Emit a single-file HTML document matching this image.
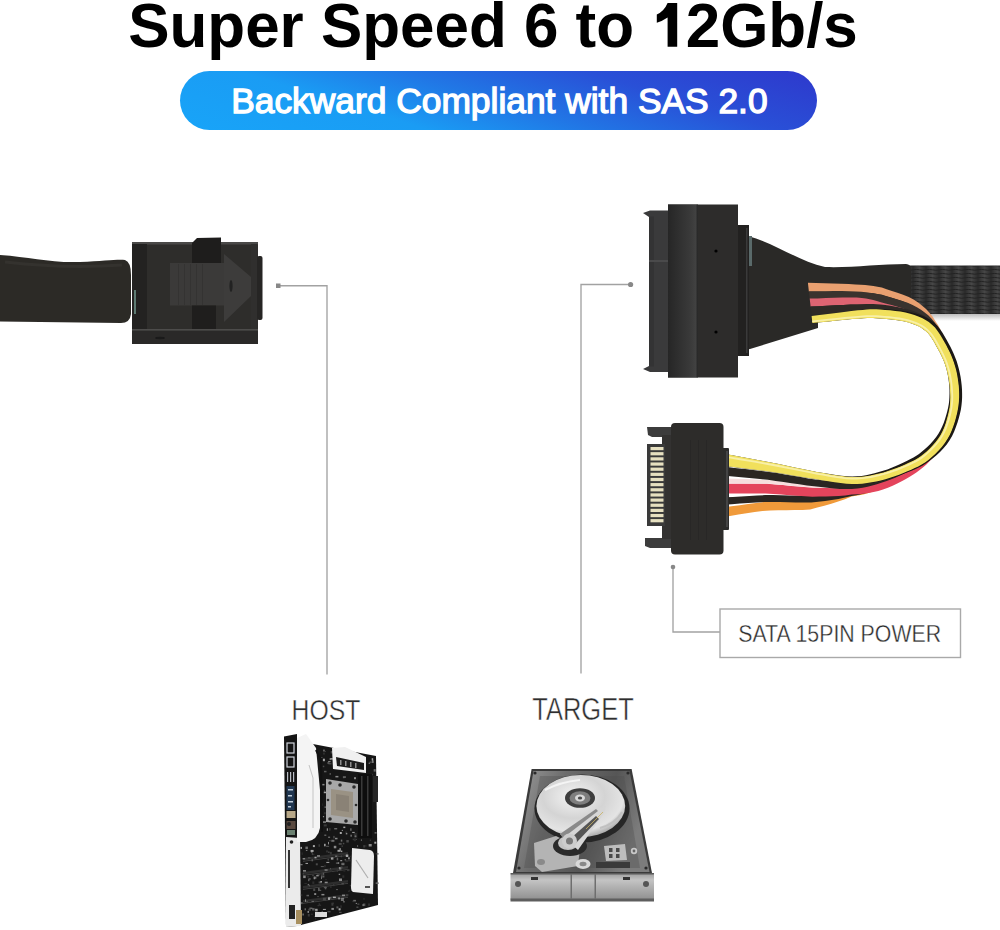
<!DOCTYPE html>
<html><head><meta charset="utf-8">
<style>
html,body{margin:0;padding:0;background:#fff;width:1000px;height:930px;overflow:hidden}
svg{position:absolute;left:0;top:0;display:block}
text{font-family:"Liberation Sans",sans-serif}
</style></head><body>
<svg width="1000" height="930" viewBox="0 0 1000 930">
<defs>
 <linearGradient id="pill" gradientUnits="userSpaceOnUse" x1="180" y1="130" x2="251.5" y2="-102.8">
  <stop offset="0" stop-color="#18a4f8"/>
  <stop offset="0.3" stop-color="#1a9cf4"/>
  <stop offset="0.5" stop-color="#2176e5"/>
  <stop offset="0.72" stop-color="#2950d7"/>
  <stop offset="1" stop-color="#2e38cc"/>
 </linearGradient>
</defs>
<rect width="1000" height="930" fill="#fff"/>

<!-- Title -->
<text transform="translate(128.2,46.9) scale(0.9724,1)" font-size="63.7" font-weight="bold" fill="#000">Super Speed 6 to <tspan fill="transparent">1</tspan>2Gb/s</text>
<path d="M667.6,3 L677.2,3 L677.2,46.8 L667.6,46.8 L667.6,17.5 Q662.5,21 656.8,22.8 L656.8,14.4 Q664,11.5 667.6,3 Z" fill="#000"/>

<!-- Pill -->
<rect x="180" y="71" width="637" height="59" rx="29.5" fill="url(#pill)"/>
<text transform="translate(231.2,112.5) scale(1.0121,1)" font-size="34.94" fill="#fff" stroke="#fff" stroke-width="1.3">Backward Compliant with SAS 2.0</text>

<!-- Left cable -->
<g id="leftcable">
 <path d="M0,255 C30,257 50,263 80,262 C105,261 118,259 125,260 Q131,262 131,275 L131,314 Q130,323 121,323 L0,321.5 Z" fill="#2c2a26"/>
 <path d="M5,262 C40,266 80,268 122,265" stroke="#34322e" stroke-width="3" fill="none"/>
 <rect x="132" y="242" width="126" height="102" fill="#2e2d2b"/>
 <rect x="132" y="242" width="126" height="2.5" fill="#4a4948"/>
 <rect x="132" y="244" width="15" height="86" fill="#232221"/>
 <rect x="134" y="290" width="2" height="24" fill="#5d7a72"/>
 <polygon points="224,254 251,277 251,296 224,322" fill="#3d3c3b"/>
 <rect x="251" y="244" width="6.5" height="86" fill="#302f2e"/>
 <rect x="257" y="256" width="5.5" height="64" rx="2" fill="#262524"/>
 <rect x="170" y="263" width="54" height="42.5" fill="#3b3a39"/>
 <g fill="#343332"><rect x="178" y="264" width="1" height="41"/><rect x="184" y="264" width="1" height="41"/><rect x="190" y="264" width="1" height="41"/><rect x="196" y="264" width="1" height="41"/><rect x="202" y="264" width="1" height="41"/></g>
 <ellipse cx="231" cy="286" rx="1.6" ry="6" fill="#222"/>
 <path d="M192,243 L197,238 L221,237.5 L221,263 L192,263 Z" fill="#1e1d1c"/>
 <rect x="192" y="305.5" width="24" height="24" fill="#1f1e1d"/>
 <rect x="132" y="329.5" width="126" height="14.5" fill="#2a2928"/>
 <rect x="132" y="329" width="126" height="1.6" fill="#4d4c4b"/>
 <ellipse cx="160" cy="338" rx="5" ry="1.2" fill="#1a1a1a"/>
</g>

<!-- guide lines -->
<g stroke="#a2a2a2" stroke-width="1.35" fill="none">
 <polyline points="278,285.7 327,285.7 327,674.5"/>
 <polyline points="630.5,284.5 581,284.5 581,673.6"/>
 <polyline points="673,567 673,632 720,632"/>
</g>
<rect x="276" y="283.5" width="4.5" height="4.5" fill="#888"/>
<circle cx="630.6" cy="284.5" r="2.6" fill="#888"/>
<circle cx="673" cy="567" r="2.3" fill="#888"/>
<rect x="720" y="609" width="240.5" height="48.5" fill="none" stroke="#a9a9a9" stroke-width="1.4"/>

<!-- labels -->
<text transform="translate(291.6,719.7) scale(0.8146,1)" font-size="30.38" fill="#2e2e2e" stroke="#fff" stroke-width="0.45">HOST</text>
<text transform="translate(532.3,719.5) scale(0.8226,1)" font-size="30.97" fill="#2e2e2e" stroke="#fff" stroke-width="0.45">TARGET</text>
<text transform="translate(738.2,641.9) scale(0.8989,1)" font-size="23.72" fill="#2e2e2e" stroke="#fff" stroke-width="0.35">SATA 15PIN POWER</text>

<!-- flat cable + boot -->
<defs>
 <linearGradient id="rib" x1="0" y1="0" x2="1" y2="0">
  <stop offset="0" stop-color="#262626"/>
  <stop offset="0.75" stop-color="#3a3a3a"/>
  <stop offset="0.92" stop-color="#414141"/>
  <stop offset="1" stop-color="#232323"/>
 </linearGradient>
 <linearGradient id="braidband" x1="0" y1="0" x2="1" y2="0">
  <stop offset="0" stop-color="#2a2a2a"/>
  <stop offset="0.5" stop-color="#474747"/>
  <stop offset="1" stop-color="#2a2a2a"/>
 </linearGradient>
 <pattern id="braid" patternUnits="userSpaceOnUse" x="900" y="265" width="13" height="4">
  <rect width="13" height="4" fill="url(#braidband)"/>
  <path d="M0,0.8 Q3.25,0 6.5,0.8 T13,0.8" stroke="#222" stroke-width="1" fill="none"/>
 </pattern>
 <linearGradient id="refl" x1="0" y1="0" x2="0" y2="1">
  <stop offset="0" stop-color="#bdbdbd"/>
  <stop offset="1" stop-color="#ffffff"/>
 </linearGradient>
</defs>
<g id="sas">
 <rect x="900" y="265.5" width="100" height="48.5" fill="url(#braid)"/>
 <rect x="900" y="314" width="100" height="7" fill="url(#refl)"/>
 <path d="M745,236 L748,236 C775,243 800,262 825,267 C850,268 880,264 906,264 Q911,264 911,270 L911,300 L900,304 L818,322 L818,328 L750,349 L745,350 Z" fill="#2a2927"/>
 <rect x="738" y="225" width="11" height="131" fill="#222120"/>
 <rect x="746" y="228" width="1.5" height="125" fill="#3a3a3a"/>
 <rect x="749" y="236" width="3" height="30" fill="#5a6a6a"/>
 <rect x="668" y="204.5" width="70" height="173" fill="#2d2c2b"/>
 <rect x="668" y="204.5" width="30" height="173" fill="url(#rib)"/>
 <path d="M643,213 L650,210.5 L668,210.5 L668,372 L650,372 L643,369 L649,366 L649,217 Z" fill="#3a3a3b"/>
 <rect x="649" y="216.5" width="5" height="150" fill="#333334"/>
 <rect x="649" y="260" width="19" height="2" fill="#4a4a4b"/>
 <circle cx="716" cy="251" r="1.6" fill="#000"/>
 <circle cx="716" cy="332" r="1.6" fill="#000"/>
</g>

<!-- wires -->
<g>
<path d="M808.9,291.7 816.9,291.8 825.3,291.8 833.7,291.9 841.9,292.0 849.5,292.2 856.1,292.6 861.4,292.6 865.6,292.7 869.5,292.9 873.3,293.3 877.2,293.9 881.3,294.5 886.0,296.0 891.2,297.5 896.6,299.2 902.1,301.1 907.5,303.2 912.4,305.5 916.6,308.2 920.4,311.1 923.8,314.2 926.9,317.5 929.7,321.0 932.0,324.7 934.4,328.1 936.4,331.9 938.1,335.7 939.5,339.5 940.8,343.3 942.0,347.0 945.5,345.1 944.5,341.3 943.3,337.3 941.9,333.2 940.2,329.1 938.0,324.9 935.3,320.9 932.7,316.8 929.7,312.9 926.3,309.3 922.5,305.9 918.5,302.7 914.0,299.7 908.8,297.1 903.1,294.8 897.4,292.8 891.9,290.9 886.6,289.2 881.8,287.6 877.5,286.7 873.4,286.0 869.3,285.4 865.2,285.0 860.8,284.8 855.4,284.6 848.7,284.1 841.0,283.7 832.7,283.4 824.3,283.2 815.9,283.0 807.9,282.7Z" fill="#e9a070"/>
<path d="M809.7,299.1 817.7,299.2 826.1,299.1 834.5,299.1 842.6,299.1 850.2,299.2 856.7,299.6 861.9,299.8 866.0,300.2 869.7,300.7 873.2,301.3 876.8,302.1 880.7,303.0 885.4,304.1 890.4,305.3 895.7,306.7 901.0,308.2 906.1,309.8 910.7,311.7 914.8,313.8 918.5,315.9 921.9,318.2 925.0,320.8 927.8,323.5 930.3,326.5 932.9,329.5 935.1,332.8 937.1,336.3 938.8,339.9 940.5,343.5 942.0,347.0 945.5,345.1 944.2,341.4 942.9,337.6 941.3,333.6 939.4,329.7 937.1,325.8 934.3,322.0 931.4,318.5 928.2,315.3 924.7,312.4 921.0,309.7 916.9,307.3 912.6,305.0 907.6,302.8 902.2,300.9 896.6,299.2 891.2,297.7 886.0,296.3 881.3,295.0 877.1,294.1 873.3,293.3 869.5,292.7 865.6,292.2 861.3,291.8 856.0,291.6 849.4,291.3 841.8,291.1 833.6,291.1 825.2,291.2 816.8,291.2 808.8,291.2Z" fill="#3a332e"/>
<path d="M810.6,306.6 818.5,306.2 826.9,305.7 835.2,305.3 843.3,304.9 850.7,304.6 857.1,304.5 862.2,304.4 866.3,304.4 869.8,304.6 873.2,304.9 876.6,305.3 880.6,305.8 885.2,306.6 890.2,307.5 895.5,308.6 900.7,309.8 905.8,311.2 910.4,312.8 914.5,314.5 918.3,316.4 921.8,318.4 922.2,317.6 918.6,315.5 914.9,313.5 910.7,311.6 906.1,309.6 901.1,307.8 895.8,306.2 890.5,304.8 885.4,303.4 880.8,302.2 876.8,301.1 873.2,300.1 869.7,299.3 866.0,298.6 861.8,298.0 856.5,297.6 850.0,297.5 842.5,297.6 834.4,297.8 826.0,298.1 817.7,298.4 809.7,298.6Z" fill="#de6472"/>
<path d="M811.4,314.5 819.4,314.0 827.7,313.4 836.1,312.7 844.1,312.2 851.4,311.8 857.7,311.5 862.8,311.2 866.7,311.0 870.0,310.9 873.1,311.0 876.3,311.2 880.2,311.5 884.7,311.9 889.7,312.5 894.9,313.1 900.1,313.9 905.0,314.9 909.5,316.1 913.5,317.5 917.2,319.0 920.7,320.7 923.9,322.6 926.9,324.8 929.7,327.3 932.2,330.1 934.6,333.2 936.6,336.6 938.5,340.1 940.3,343.6 942.0,347.0 945.5,345.1 944.1,341.5 942.6,337.7 940.8,333.9 938.8,330.1 936.5,326.3 933.7,322.8 930.4,319.9 926.9,317.5 923.3,315.3 919.5,313.4 915.4,311.8 911.1,310.3 906.3,308.9 901.1,307.7 895.7,306.7 890.4,305.8 885.3,305.1 880.6,304.5 876.7,304.2 873.2,304.0 869.8,303.9 866.3,304.0 862.2,304.2 857.1,304.5 850.7,304.6 843.3,304.9 835.2,305.3 826.9,305.7 818.5,306.2 810.6,306.6Z" fill="#2e2a26"/>
<path d="M881.2,481.9 876.7,483.4 872.2,484.8 867.5,486.1 862.6,487.1 857.4,488.0 851.8,488.5 845.7,491.1 839.2,493.3 832.6,495.3 825.7,497.1 818.8,498.9 811.7,500.6 804.1,501.0 796.1,501.2 788.0,501.4 779.9,501.5 771.8,501.7 764.0,502.0 756.1,503.0 748.0,504.1 739.8,505.2 731.4,506.3 723.0,507.4 714.6,508.4 713.1,518.3 721.5,517.1 730.0,515.9 738.4,514.6 746.6,513.3 754.7,512.1 762.5,510.9 770.2,510.5 778.2,510.3 786.3,510.2 794.4,510.1 802.5,509.9 810.2,509.5 817.3,507.6 824.3,505.7 831.3,503.7 838.2,501.6 845.0,499.2 851.6,496.5 857.7,495.6 863.3,494.4 868.5,493.0 873.4,491.4 878.0,489.6 882.6,487.7Z" fill="#f09a3a"/>
<path d="M906.4,468.9 902.6,471.1 898.6,473.2 894.3,475.3 890.0,477.3 885.5,479.2 880.9,480.9 876.5,482.6 872.1,484.3 867.5,485.8 862.6,487.1 857.4,488.2 851.8,489.0 845.7,490.7 839.4,492.0 832.9,493.1 826.3,494.0 819.5,494.9 812.5,495.7 805.1,495.8 797.2,495.6 789.1,495.5 781.0,495.3 773.0,495.1 765.2,495.1 757.3,495.5 749.3,495.9 741.1,496.4 732.9,496.9 724.5,497.3 716.2,497.8 715.1,505.3 723.4,504.7 731.8,504.2 740.0,503.6 748.2,503.1 756.2,502.5 764.0,502.0 771.8,502.0 779.7,502.1 787.8,502.3 795.9,502.5 803.8,502.6 811.3,502.6 818.4,501.8 825.1,500.9 831.8,500.0 838.5,498.9 845.1,497.6 851.6,496.0 857.6,495.0 863.2,493.8 868.4,492.3 873.2,490.5 877.8,488.7 882.3,486.7 887.0,484.7 891.6,482.4 896.0,480.0 900.2,477.6 904.3,475.1 908.0,472.6Z" fill="#2a2622"/>
<path d="M942.3,436.0 940.3,439.8 937.8,443.6 935.1,447.4 932.2,450.9 929.3,454.3 926.3,457.4 923.3,460.1 920.3,462.4 917.2,464.5 914.0,466.5 910.6,468.4 907.0,470.3 903.1,472.4 899.1,474.5 894.8,476.5 890.3,478.5 885.7,480.3 881.2,481.9 876.6,482.9 872.0,483.8 867.3,484.6 862.4,485.1 857.3,485.5 851.9,485.5 846.1,486.4 840.0,487.0 833.8,487.4 827.4,487.6 820.8,487.7 813.9,487.8 806.6,487.3 798.9,486.6 791.0,485.9 783.0,485.1 775.0,484.4 767.1,483.8 759.2,483.7 751.2,483.7 743.0,483.7 734.8,483.7 726.6,483.7 718.3,483.7 716.8,493.6 725.1,493.6 733.3,493.6 741.5,493.6 749.6,493.6 757.6,493.6 765.5,493.6 773.2,494.1 781.2,494.6 789.2,495.2 797.1,495.8 805.0,496.3 812.4,496.7 819.2,496.6 825.9,496.5 832.4,496.3 838.9,496.0 845.3,495.4 851.6,494.5 857.6,494.3 863.2,493.8 868.5,493.0 873.5,492.0 878.3,490.9 883.0,489.6 887.9,487.8 892.6,485.8 897.3,483.6 901.7,481.3 905.9,479.0 909.7,476.7 913.3,474.5 916.7,472.2 920.0,469.8 923.2,467.3 926.4,464.4 929.5,461.3 932.5,457.9 935.5,454.3 938.4,450.4 941.2,446.4 943.6,442.2 945.7,438.0Z" fill="#e4445c"/>
<path d="M880.7,479.9 876.2,481.3 871.8,482.5 867.2,483.6 862.4,484.5 857.3,485.1 851.9,485.5 846.1,486.0 840.1,486.1 834.0,486.0 827.7,485.8 821.2,485.4 814.4,485.1 807.1,484.4 799.5,483.6 791.6,482.6 783.6,481.7 775.6,480.8 767.8,480.0 759.9,479.7 751.8,479.3 743.7,479.1 735.6,478.8 727.4,478.5 719.2,478.2 718.5,482.5 726.7,482.7 735.0,482.9 743.1,483.0 751.3,483.2 759.3,483.3 767.2,483.6 775.0,484.2 783.0,484.9 791.0,485.7 798.9,486.4 806.6,487.1 813.9,487.6 820.7,487.9 827.3,488.1 833.6,488.3 839.9,488.3 845.9,488.1 851.8,487.5 857.4,487.1 862.6,486.5 867.5,485.6 872.1,484.5 876.7,483.2 881.2,481.9Z" fill="#f6dede"/>
<path d="M906.0,468.0 902.0,469.7 897.9,471.4 893.5,473.0 889.0,474.5 884.5,475.8 880.0,477.0 875.6,478.2 871.2,479.4 866.7,480.4 862.1,481.2 857.2,481.7 852.0,482.0 846.4,482.1 840.7,481.9 834.7,481.5 828.5,480.9 822.1,480.2 815.3,479.4 808.2,478.4 800.7,477.1 792.9,475.8 785.0,474.5 777.0,473.1 769.2,471.9 761.3,471.0 753.3,470.0 745.2,469.1 737.1,468.2 729.0,467.3 721.0,466.4 719.6,475.3 727.7,476.1 735.9,476.8 744.0,477.5 752.0,478.3 760.0,479.0 767.8,479.8 775.6,480.9 783.6,482.0 791.5,483.2 799.3,484.3 806.9,485.4 814.1,486.3 820.9,487.1 827.3,487.8 833.6,488.4 839.8,488.9 845.8,489.1 851.8,489.0 857.4,488.6 862.7,487.8 867.6,486.8 872.3,485.6 876.9,484.3 881.4,482.8 886.0,481.3 890.7,479.6 895.2,477.7 899.5,475.7 903.7,473.7 907.6,471.7Z" fill="#2a2622"/>
<path d="M811.7,316.5 819.6,315.5 827.9,314.5 836.1,313.4 844.1,312.4 851.4,311.5 857.7,310.8 862.7,310.4 866.6,310.0 870.0,309.8 873.1,309.8 876.4,309.8 880.3,310.0 884.9,310.4 889.9,310.8 895.1,311.4 900.4,312.1 905.4,313.0 910.1,314.1 914.2,315.4 918.1,316.8 921.8,318.5 925.2,320.3 928.5,322.5 931.7,325.0 934.6,328.0 937.2,331.3 939.6,334.7 941.7,338.2 943.7,341.7 945.5,345.1 947.3,348.4 949.0,351.7 950.5,355.1 952.0,358.6 953.3,362.2 954.4,365.9 955.5,369.7 956.4,373.7 957.1,377.7 957.7,381.8 958.2,385.8 958.5,389.8 958.6,393.6 958.6,397.3 958.4,401.1 958.0,404.9 957.4,408.8 956.6,412.8 955.6,417.0 954.4,421.3 952.9,425.8 951.3,430.3 949.3,434.6 947.0,438.8 944.4,442.7 941.4,446.5 938.2,450.2 934.8,453.6 931.4,456.7 928.1,459.6 924.7,462.1 921.4,464.2 918.0,466.0 914.5,467.7 911.0,469.3 907.2,470.8 903.2,472.5 899.0,474.2 894.5,475.8 890.0,477.4 885.3,478.7 880.7,479.9 876.2,480.9 871.6,481.8 867.0,482.6 862.3,483.2 857.3,483.5 851.9,483.5 846.3,483.2 840.6,482.6 834.7,481.8 828.5,480.8 822.1,479.7 815.5,478.6 808.4,477.5 800.8,476.3 793.1,474.9 785.1,473.6 777.2,472.3 769.3,471.0 761.4,470.0 753.5,469.0 745.4,468.0 737.3,467.0 729.2,466.0 721.2,465.0 721.1,465.5 729.2,466.5 737.3,467.5 745.3,468.5 753.4,469.5 761.3,470.5 769.2,471.5 777.1,472.8 785.1,474.1 793.0,475.4 800.8,476.7 808.3,478.0 815.4,479.0 822.1,480.2 828.4,481.3 834.6,482.3 840.5,483.1 846.3,483.7 851.9,484.0 857.3,484.1 862.3,483.8 867.1,483.3 871.8,482.7 876.4,481.8 880.9,480.9 885.6,479.8 890.3,478.5 894.9,477.0 899.4,475.5 903.7,473.8 907.8,472.2 911.6,470.7 915.2,469.2 918.8,467.6 922.3,465.8 925.8,463.6 929.3,461.1 932.9,458.3 936.5,455.2 940.0,451.9 943.5,448.2 946.7,444.4 949.6,440.3 952.1,436.0 954.2,431.5 956.0,426.8 957.6,422.3 958.9,417.8 960.0,413.5 960.9,409.4 961.5,405.3 961.9,401.3 962.1,397.4 962.1,393.5 962.0,389.6 961.7,385.5 961.2,381.3 960.6,377.1 959.8,373.0 958.9,368.9 957.8,364.9 956.6,361.1 955.2,357.4 953.7,353.7 952.1,350.2 950.4,346.8 948.6,343.4 946.7,340.0 944.7,336.5 942.5,332.8 940.1,329.2 937.2,325.6 934.0,322.4 930.4,319.9 926.8,317.8 923.0,316.0 919.0,314.5 914.9,313.3 910.6,312.2 905.8,311.2 900.6,310.5 895.3,309.9 890.0,309.5 885.0,309.2 880.3,309.0 876.4,308.9 873.1,308.9 869.9,309.1 866.6,309.4 862.6,309.8 857.6,310.3 851.3,311.0 844.0,311.9 836.1,312.9 827.8,314.0 819.5,315.0 811.6,316.0Z" fill="#1c1915"/>
<path d="M812.4,323.0 820.4,322.2 828.6,321.4 836.9,320.5 844.9,319.8 852.1,319.1 858.4,318.7 863.3,318.3 867.1,318.1 870.2,318.0 873.0,318.1 876.0,318.2 879.7,318.5 884.2,318.8 889.0,319.3 894.1,319.8 899.0,320.5 903.7,321.3 907.8,322.3 911.5,323.5 914.9,324.7 918.0,326.1 920.9,327.6 923.5,329.4 926.0,331.3 928.3,333.6 930.4,336.3 932.4,339.3 934.4,342.5 936.2,345.9 938.0,349.2 939.7,352.3 941.3,355.4 942.7,358.6 944.1,361.7 945.2,364.9 946.3,368.3 947.1,371.8 947.9,375.4 948.5,379.2 949.0,382.9 949.3,386.7 949.5,390.3 949.5,393.8 949.4,397.2 949.2,400.6 948.8,403.9 948.2,407.3 947.4,410.8 946.4,414.6 945.2,418.6 943.8,422.7 942.2,426.6 940.4,430.3 938.4,433.7 936.2,436.9 933.6,440.2 930.8,443.4 927.8,446.4 924.7,449.2 921.7,451.7 919.0,453.9 916.3,455.8 913.5,457.5 910.5,459.1 907.2,460.7 903.6,462.4 899.8,464.2 895.8,466.0 891.6,467.7 887.4,469.4 883.1,470.8 878.8,472.1 874.5,473.3 870.3,474.3 866.0,475.2 861.6,475.9 857.0,476.3 852.1,476.5 846.9,476.3 841.4,475.8 835.7,475.0 829.7,474.1 823.3,473.0 816.6,472.0 809.6,470.6 802.2,469.0 794.5,467.4 786.6,465.7 778.7,464.0 770.8,462.5 762.9,460.9 754.9,459.4 746.9,458.0 738.9,456.6 730.9,455.1 722.9,453.7 722.8,454.2 730.8,455.6 738.8,457.0 746.8,458.5 754.8,459.9 762.8,461.4 770.7,463.0 778.6,464.5 786.6,466.2 794.4,467.9 802.1,469.5 809.5,471.1 816.5,472.4 823.2,473.6 829.6,474.7 835.6,475.7 841.3,476.6 846.8,477.2 852.1,477.5 857.1,477.5 861.7,477.2 866.2,476.7 870.6,475.9 874.9,475.1 879.3,474.1 883.7,472.9 888.1,471.6 892.5,470.1 896.7,468.5 900.9,466.8 904.8,465.2 908.4,463.5 911.8,461.9 915.0,460.4 918.0,458.6 921.0,456.7 923.9,454.4 927.0,451.8 930.1,448.8 933.2,445.6 936.1,442.2 938.7,438.7 941.0,435.2 942.9,431.5 944.6,427.6 946.1,423.5 947.4,419.3 948.5,415.1 949.4,411.2 950.0,407.6 950.5,404.1 950.7,400.6 950.8,397.2 950.7,393.8 950.5,390.2 950.2,386.6 949.8,382.8 949.2,379.0 948.5,375.3 947.7,371.6 946.8,368.1 945.7,364.8 944.5,361.5 943.2,358.4 941.8,355.2 940.2,352.1 938.5,348.9 936.7,345.6 934.8,342.3 932.8,339.0 930.8,336.0 928.6,333.3 926.3,331.0 923.8,329.0 921.1,327.2 918.2,325.7 915.1,324.3 911.7,323.0 907.9,321.9 903.8,320.8 899.1,320.0 894.1,319.3 889.1,318.8 884.2,318.3 879.7,318.0 876.0,317.7 873.0,317.6 870.2,317.5 867.1,317.6 863.3,317.8 858.3,318.2 852.1,318.6 844.8,319.3 836.9,320.0 828.6,320.9 820.3,321.7 812.3,322.5Z" fill="#1c1915"/>
<path d="M812.4,323.0 820.4,322.2 828.6,321.4 836.9,320.5 844.9,319.8 852.1,319.1 858.4,318.7 863.3,318.3 867.1,318.1 870.2,318.0 873.0,318.1 876.0,318.2 879.7,318.5 884.2,318.8 889.0,319.3 894.1,319.8 899.0,320.5 903.7,321.3 907.8,322.3 911.5,323.5 914.9,324.7 918.0,326.1 920.9,327.6 923.5,329.4 926.0,331.3 928.3,333.6 930.4,336.3 932.4,339.3 934.4,342.5 936.2,345.9 938.0,349.2 939.7,352.3 941.3,355.4 942.7,358.6 944.1,361.7 945.2,364.9 946.3,368.3 947.2,371.8 948.0,375.4 948.7,379.1 949.3,382.9 949.7,386.6 950.0,390.3 950.2,393.8 950.3,397.2 950.2,400.6 950.0,404.0 949.6,407.5 948.9,411.1 948.0,415.0 946.9,419.1 945.7,423.3 944.2,427.4 942.5,431.3 940.6,434.9 938.3,438.4 935.7,441.9 932.8,445.2 929.8,448.4 926.7,451.4 923.6,454.0 920.7,456.3 917.8,458.2 914.8,459.9 911.6,461.5 908.2,463.1 904.6,464.7 900.7,466.4 896.6,468.0 892.3,469.6 888.0,471.1 883.6,472.5 879.2,473.6 874.8,474.6 870.5,475.4 866.1,476.2 861.7,476.7 857.0,477.0 852.1,477.0 846.9,476.7 841.4,476.1 835.7,475.2 829.6,474.2 823.3,473.1 816.6,472.0 809.6,470.6 802.2,469.0 794.5,467.4 786.6,465.7 778.7,464.0 770.8,462.5 762.9,460.9 754.9,459.4 746.9,458.0 738.9,456.6 730.9,455.1 722.9,453.7 721.1,465.5 729.2,466.5 737.3,467.5 745.3,468.5 753.4,469.5 761.3,470.5 769.2,471.5 777.1,472.8 785.1,474.1 793.0,475.4 800.8,476.7 808.3,478.0 815.4,479.0 822.1,480.2 828.4,481.3 834.6,482.3 840.5,483.1 846.3,483.7 851.9,484.0 857.3,484.0 862.3,483.7 867.1,483.1 871.7,482.3 876.3,481.4 880.8,480.4 885.5,479.2 890.1,477.8 894.7,476.3 899.1,474.7 903.4,473.0 907.4,471.3 911.2,469.7 914.7,468.1 918.2,466.5 921.6,464.6 925.0,462.5 928.4,460.0 931.8,457.1 935.2,453.9 938.6,450.5 941.8,446.9 944.8,443.0 947.4,439.1 949.7,434.9 951.7,430.5 953.4,425.9 954.9,421.5 956.1,417.1 957.1,412.9 957.9,408.9 958.5,405.0 958.9,401.1 959.1,397.4 959.1,393.6 959.0,389.7 958.7,385.8 958.2,381.7 957.6,377.6 956.9,373.6 956.0,369.6 954.9,365.7 953.7,362.0 952.4,358.4 951.0,354.9 949.4,351.5 947.7,348.2 946.0,344.8 944.1,341.5 942.1,338.0 940.0,334.5 937.6,331.0 935.0,327.6 932.0,324.7 928.8,322.1 925.5,319.9 922.0,318.0 918.3,316.4 914.4,315.0 910.2,313.7 905.5,312.5 900.4,311.6 895.2,310.9 889.9,310.3 884.9,309.9 880.3,309.5 876.4,309.3 873.1,309.3 869.9,309.3 866.6,309.5 862.7,309.9 857.6,310.3 851.3,311.0 844.0,311.9 836.1,312.9 827.8,314.0 819.5,315.0 811.6,316.0Z" fill="#f1e05c"/>
<path d="M812.3,322.3 820.3,321.5 828.6,320.6 836.8,319.7 844.8,318.9 852.0,318.2 858.3,317.7 863.2,317.3 867.0,317.1 870.2,317.0 873.0,317.0 876.0,317.1 879.8,317.4 884.3,317.7 889.1,318.1 894.2,318.7 899.2,319.4 903.9,320.2 908.1,321.3 911.9,322.4 915.3,323.7 918.5,325.1 921.5,326.7 924.2,328.5 926.7,330.5 929.1,332.9 931.3,335.6 933.4,338.7 935.3,342.0 937.2,345.3 939.0,348.6 940.7,351.8 942.3,354.9 943.8,358.1 945.1,361.3 946.3,364.6 947.4,367.9 948.3,371.5 949.1,375.2 949.9,378.9 950.4,382.7 950.9,386.5 951.1,390.2 951.3,393.8 951.4,397.3 951.3,400.7 951.0,404.1 950.6,407.6 949.9,411.3 948.9,415.3 947.8,419.4 946.5,423.6 945.0,427.7 943.3,431.7 941.3,435.4 939.0,438.9 936.4,442.4 933.4,445.8 930.4,449.0 927.2,452.0 924.1,454.7 921.1,456.9 918.2,458.9 915.1,460.6 911.9,462.2 908.5,463.7 904.9,465.4 900.9,467.0 896.8,468.7 892.5,470.3 888.2,471.8 883.8,473.1 879.3,474.3 875.0,475.2 870.6,476.1 866.2,476.8 861.7,477.4 857.1,477.6 852.1,477.7 846.8,477.4 841.3,476.8 835.6,475.9 829.5,474.9 823.2,473.8 816.5,472.7 809.5,471.3 802.1,469.9 794.3,468.3 786.5,466.7 778.5,465.1 770.6,463.6 762.7,462.2 754.7,460.8 746.7,459.5 738.7,458.1 730.6,456.8 722.6,455.4 722.4,457.2 730.4,458.6 738.4,459.9 746.4,461.2 754.4,462.6 762.4,464.0 770.3,465.4 778.2,466.9 786.1,468.5 794.0,470.1 801.7,471.6 809.1,473.1 816.2,474.4 822.9,475.6 829.2,476.7 835.3,477.7 841.1,478.6 846.7,479.2 852.0,479.5 857.1,479.4 861.9,479.1 866.5,478.6 870.9,477.9 875.3,477.0 879.8,476.0 884.2,474.8 888.7,473.5 893.1,472.0 897.5,470.4 901.6,468.7 905.6,467.0 909.3,465.4 912.7,463.8 916.0,462.2 919.1,460.4 922.2,458.4 925.3,456.1 928.4,453.3 931.6,450.3 934.8,447.0 937.8,443.6 940.5,440.0 942.9,436.3 944.9,432.5 946.7,428.4 948.2,424.2 949.6,419.9 950.7,415.7 951.6,411.7 952.3,407.9 952.8,404.3 953.1,400.8 953.2,397.3 953.1,393.7 952.9,390.1 952.6,386.3 952.2,382.5 951.6,378.6 950.9,374.8 950.1,371.0 949.1,367.4 948.0,364.0 946.8,360.6 945.4,357.4 943.9,354.2 942.3,351.0 940.6,347.8 938.8,344.4 936.9,341.1 934.9,337.7 932.7,334.6 930.4,331.7 927.9,329.2 925.3,327.0 922.4,325.1 919.3,323.5 916.0,322.0 912.4,320.7 908.6,319.5 904.3,318.5 899.5,317.6 894.4,316.9 889.3,316.3 884.4,315.9 879.9,315.6 876.1,315.3 873.0,315.2 870.1,315.2 866.9,315.3 863.1,315.5 858.1,315.9 851.9,316.4 844.6,317.1 836.6,317.9 828.4,318.8 820.1,319.7 812.1,320.5Z" fill="#f8f0a8"/>
</g>

<!-- SATA connector -->
<g id="sata">
 <rect x="722" y="448" width="7" height="82" rx="1" fill="#2c2c2b"/>
 <rect x="726" y="451" width="2" height="76" fill="#454545"/>
 <path d="M647,427 L671,427 L671,437 L652,437 L648,435 Z" fill="#3c3c3c"/>
 <path d="M645,538 L671,538 L671,548 L650,548 L645,546 Z" fill="#3c3c3c"/>
 <rect x="662" y="435" width="9" height="104" fill="#333231"/>
 <rect x="647" y="444" width="18" height="82" fill="#3a3a3a"/>
 <rect x="650.5" y="447.00" width="13" height="3.2" fill="#e6e0c0"/><rect x="650.5" y="452.15" width="13" height="3.2" fill="#e6e0c0"/><rect x="650.5" y="457.30" width="13" height="3.2" fill="#e6e0c0"/><rect x="650.5" y="462.45" width="13" height="3.2" fill="#e6e0c0"/><rect x="650.5" y="467.60" width="13" height="3.2" fill="#e6e0c0"/><rect x="650.5" y="472.75" width="13" height="3.2" fill="#e6e0c0"/><rect x="650.5" y="477.90" width="13" height="3.2" fill="#e6e0c0"/><rect x="650.5" y="483.05" width="13" height="3.2" fill="#e6e0c0"/><rect x="650.5" y="488.20" width="13" height="3.2" fill="#e6e0c0"/><rect x="650.5" y="493.35" width="13" height="3.2" fill="#e6e0c0"/><rect x="650.5" y="498.50" width="13" height="3.2" fill="#e6e0c0"/><rect x="650.5" y="503.65" width="13" height="3.2" fill="#e6e0c0"/><rect x="650.5" y="508.80" width="13" height="3.2" fill="#e6e0c0"/><rect x="650.5" y="513.95" width="13" height="3.2" fill="#e6e0c0"/><rect x="650.5" y="519.10" width="13" height="3.2" fill="#e6e0c0"/>
 <rect x="671" y="423" width="52.5" height="131.5" rx="4" fill="#2d2c2a"/>
 <g fill="#282726"><rect x="690" y="440" width="1" height="100"/><rect x="698" y="440" width="1" height="100"/><rect x="706" y="440" width="1" height="100"/></g>
</g>

<!-- motherboard -->
<defs>
 <linearGradient id="platter" x1="0" y1="0" x2="1" y2="1">
  <stop offset="0" stop-color="#f2f2f2"/>
  <stop offset="0.45" stop-color="#cfcfcf"/>
  <stop offset="0.7" stop-color="#e6e6e6"/>
  <stop offset="1" stop-color="#a8a8a8"/>
 </linearGradient>
 <linearGradient id="front" x1="0" y1="0" x2="0" y2="1">
  <stop offset="0" stop-color="#9a9a9a"/>
  <stop offset="0.25" stop-color="#c4c4c4"/>
  <stop offset="1" stop-color="#8c8c8c"/>
 </linearGradient>
 <linearGradient id="hddbase" x1="0" y1="0" x2="1" y2="1">
  <stop offset="0" stop-color="#6a6a6a"/>
  <stop offset="0.5" stop-color="#4e4e4e"/>
  <stop offset="1" stop-color="#3c3c3c"/>
 </linearGradient>
</defs>
<g id="mb">
 <polygon points="297,741 376,756 378,905 297,926" fill="#161616"/>
 <!-- io strip -->
 <polygon points="284,736.5 297,734 297,926 286,927" fill="#141414"/>
 <rect x="287" y="743" width="7" height="10" fill="none" stroke="#d0d4dc" stroke-width="1.2"/>
 <rect x="287" y="757" width="7" height="10" fill="none" stroke="#d0d4dc" stroke-width="1.2"/>
 <g fill="#b8bcc4"><rect x="287" y="772" width="1.2" height="10"/><rect x="290" y="772" width="1.2" height="10"/><rect x="293" y="772" width="1.2" height="10"/></g>
 <rect x="286.5" y="786" width="8" height="24" fill="#203650"/>
 <g fill="#c0ccd8"><rect x="288" y="789" width="5" height="1.5"/><rect x="288" y="795" width="4" height="1.5"/><rect x="288" y="801" width="5" height="1.5"/><rect x="288" y="806" width="3" height="1.5"/></g>
 <rect x="286.5" y="811" width="9" height="7" fill="#b8a888"/>
 <rect x="286.5" y="821" width="9" height="8" fill="#5a4a40"/>
 <circle cx="289" cy="824" r="2" fill="#222"/>
 <rect x="287" y="830" width="8" height="5" fill="#6a8070"/>
 <polygon points="286,837 300,838 301,926 286,927" fill="#ebebeb"/>
 <rect x="288" y="850" width="2" height="38" fill="#333"/>
 <circle cx="291.5" cy="842" r="1.8" fill="#222"/>
 <rect x="289" y="905" width="6" height="14" fill="#222"/>
 <!-- speckles -->
 <polygon points="303,858 348,852 348,854.5 303,860.5" fill="#2e2e2e"/>
 <polygon points="303,861 348,855 348,855.8 303,861.8" fill="#4a4a4a"/>
 <polygon points="303,872 348,866 348,868.5 303,874.5" fill="#2e2e2e"/>
 <polygon points="303,875 348,869 348,869.8 303,875.8" fill="#4a4a4a"/>
 <polygon points="303,886 348,880 348,882.5 303,888.5" fill="#2e2e2e"/>
 <polygon points="303,889 348,883 348,883.8 303,889.8" fill="#4a4a4a"/>
 <polygon points="303,900 348,894 348,896.5 303,902.5" fill="#2e2e2e"/>
 <polygon points="303,903 348,897 348,897.8 303,903.8" fill="#4a4a4a"/>
 <rect x="333.8" y="845.8" width="2.5" height="2.5" fill="#8a8a8a"/>
 <rect x="340.5" y="905.3" width="1" height="2.5" fill="#3a3a3a"/>
 <rect x="349.4" y="855.8" width="1.5" height="1" fill="#2e2e2e"/>
 <rect x="332.9" y="896.6" width="3" height="1.5" fill="#a8a8a8"/>
 <rect x="305.5" y="862.9" width="2.5" height="1" fill="#a8a8a8"/>
 <rect x="318.6" y="881.4" width="3" height="2" fill="#4a4a4a"/>
 <rect x="304.4" y="882.9" width="2.5" height="1" fill="#2e2e2e"/>
 <rect x="321.4" y="757.0" width="1" height="1" fill="#5c5c5c"/>
 <rect x="315.1" y="908.8" width="2.5" height="2.5" fill="#a8a8a8"/>
 <rect x="329.6" y="758.1" width="1.5" height="2" fill="#6e6e6e"/>
 <rect x="313.7" y="876.7" width="1.5" height="2.5" fill="#a8a8a8"/>
 <rect x="375.7" y="853.4" width="3" height="1" fill="#4a4a4a"/>
 <rect x="375.2" y="783.4" width="2" height="1" fill="#2e2e2e"/>
 <rect x="346.0" y="894.5" width="2.5" height="1" fill="#4a4a4a"/>
 <rect x="305.9" y="849.9" width="1.5" height="1" fill="#8a8a8a"/>
 <rect x="327.4" y="857.0" width="1.5" height="2.5" fill="#2e2e2e"/>
 <rect x="343.2" y="901.0" width="1.5" height="1.5" fill="#6e6e6e"/>
 <rect x="314.1" y="916.0" width="2.5" height="1" fill="#3a3a3a"/>
 <rect x="331.4" y="907.9" width="2.5" height="2" fill="#8a8a8a"/>
 <rect x="312.5" y="874.7" width="1" height="1.5" fill="#5c5c5c"/>
 <rect x="335.9" y="862.6" width="3" height="1" fill="#6e6e6e"/>
 <rect x="315.4" y="909.7" width="1" height="1" fill="#6e6e6e"/>
 <rect x="355.4" y="838.9" width="1.5" height="1" fill="#4a4a4a"/>
 <rect x="323.0" y="751.0" width="3" height="1" fill="#3a3a3a"/>
 <rect x="302.4" y="913.5" width="1.5" height="2" fill="#6e6e6e"/>
 <rect x="305.0" y="899.3" width="1" height="2.5" fill="#8a8a8a"/>
 <rect x="300.1" y="864.2" width="2.5" height="1" fill="#8a8a8a"/>
 <rect x="334.2" y="828.3" width="3" height="1" fill="#8a8a8a"/>
 <rect x="345.3" y="831.6" width="1.5" height="1" fill="#3a3a3a"/>
 <rect x="336.4" y="906.4" width="2" height="2" fill="#5c5c5c"/>
 <rect x="312.1" y="908.0" width="2.5" height="2.5" fill="#5c5c5c"/>
 <rect x="324.2" y="864.9" width="1.5" height="2.5" fill="#2e2e2e"/>
 <rect x="363.5" y="897.8" width="1" height="2" fill="#2e2e2e"/>
 <rect x="330.9" y="857.6" width="2.5" height="2" fill="#a8a8a8"/>
 <rect x="301.4" y="902.1" width="1" height="2" fill="#8a8a8a"/>
 <rect x="326.3" y="861.9" width="3" height="1" fill="#a8a8a8"/>
 <rect x="300.9" y="894.3" width="1.5" height="1.5" fill="#2e2e2e"/>
 <rect x="302.6" y="858.3" width="2.5" height="1" fill="#a8a8a8"/>
 <rect x="340.2" y="860.2" width="2" height="1" fill="#a8a8a8"/>
 <rect x="314.2" y="893.3" width="2" height="1.5" fill="#a8a8a8"/>
 <rect x="354.0" y="777.2" width="2" height="2" fill="#8a8a8a"/>
 <rect x="352.7" y="838.7" width="3" height="1.5" fill="#3a3a3a"/>
 <rect x="341.4" y="862.5" width="3" height="2" fill="#3a3a3a"/>
 <rect x="306.6" y="900.9" width="1" height="1.5" fill="#5c5c5c"/>
 <rect x="374.3" y="841.7" width="2" height="2" fill="#a8a8a8"/>
 <rect x="341.4" y="883.3" width="2.5" height="1" fill="#5c5c5c"/>
 <rect x="324.8" y="886.8" width="1.5" height="2.5" fill="#5c5c5c"/>
 <rect x="338.9" y="867.0" width="2.5" height="2.5" fill="#8a8a8a"/>
 <rect x="372.1" y="760.5" width="1.5" height="2.5" fill="#8a8a8a"/>
 <rect x="342.0" y="894.6" width="3" height="1.5" fill="#8a8a8a"/>
 <rect x="338.6" y="908.3" width="2" height="2" fill="#a8a8a8"/>
 <rect x="328.4" y="897.1" width="3" height="1.5" fill="#6e6e6e"/>
 <rect x="339.4" y="848.1" width="1.5" height="2.5" fill="#8a8a8a"/>
 <rect x="328.0" y="841.9" width="1" height="2.5" fill="#8a8a8a"/>
 <rect x="336.8" y="869.4" width="1" height="2.5" fill="#3a3a3a"/>
 <rect x="369.8" y="839.5" width="1" height="1.5" fill="#3a3a3a"/>
 <rect x="309.0" y="885.3" width="1" height="1" fill="#5c5c5c"/>
 <rect x="320.9" y="875.2" width="1.5" height="2.5" fill="#4a4a4a"/>
 <rect x="337.5" y="849.8" width="3" height="2" fill="#a8a8a8"/>
 <rect x="330.8" y="840.3" width="1.5" height="1.5" fill="#2e2e2e"/>
 <rect x="347.6" y="859.9" width="3" height="1.5" fill="#2e2e2e"/>
 <rect x="340.8" y="850.6" width="1.5" height="1.5" fill="#a8a8a8"/>
 <rect x="312.9" y="853.6" width="1.5" height="1.5" fill="#2e2e2e"/>
 <rect x="306.5" y="894.8" width="2.5" height="1.5" fill="#5c5c5c"/>
 <rect x="330.0" y="868.3" width="1" height="1" fill="#5c5c5c"/>
 <rect x="320.8" y="866.1" width="3" height="1" fill="#5c5c5c"/>
 <rect x="335.0" y="837.8" width="2.5" height="1.5" fill="#8a8a8a"/>
 <rect x="327.7" y="859.1" width="1" height="1.5" fill="#5c5c5c"/>
 <rect x="327.5" y="910.9" width="3" height="1.5" fill="#4a4a4a"/>
 <rect x="353.3" y="899.9" width="2.5" height="1.5" fill="#8a8a8a"/>
 <rect x="308.0" y="878.7" width="1.5" height="2.5" fill="#5c5c5c"/>
 <rect x="368.0" y="903.4" width="2" height="2.5" fill="#2e2e2e"/>
 <rect x="313.2" y="888.5" width="2" height="2.5" fill="#4a4a4a"/>
 <rect x="348.2" y="857.3" width="1.5" height="2" fill="#a8a8a8"/>
 <rect x="322.0" y="783.9" width="2.5" height="1.5" fill="#8a8a8a"/>
 <rect x="333.2" y="835.9" width="1.5" height="2.5" fill="#4a4a4a"/>
 <rect x="368.7" y="844.0" width="3" height="2.5" fill="#8a8a8a"/>
 <rect x="348.1" y="890.7" width="1" height="1" fill="#3a3a3a"/>
 <rect x="370.6" y="773.8" width="2.5" height="1.5" fill="#2e2e2e"/>
 <rect x="337.2" y="855.0" width="1" height="2.5" fill="#3a3a3a"/>
 <rect x="331.4" y="839.8" width="3" height="2" fill="#6e6e6e"/>
 <rect x="339.8" y="832.0" width="2" height="2" fill="#a8a8a8"/>
 <rect x="371.7" y="758.2" width="1.5" height="2.5" fill="#a8a8a8"/>
 <rect x="307.9" y="857.4" width="2.5" height="1" fill="#5c5c5c"/>
 <rect x="345.3" y="860.1" width="2.5" height="2" fill="#2e2e2e"/>
 <rect x="338.1" y="897.4" width="2" height="2" fill="#8a8a8a"/>
 <rect x="344.6" y="859.0" width="1.5" height="1.5" fill="#5c5c5c"/>
 <rect x="337.7" y="862.5" width="1.5" height="1" fill="#a8a8a8"/>
 <rect x="331.7" y="857.2" width="1" height="1.5" fill="#8a8a8a"/>
 <rect x="320.4" y="881.0" width="1.5" height="1.5" fill="#a8a8a8"/>
 <rect x="374.6" y="832.1" width="2" height="1.5" fill="#6e6e6e"/>
 <rect x="325.5" y="879.1" width="1" height="1" fill="#3a3a3a"/>
 <rect x="324.1" y="843.8" width="1.5" height="2.5" fill="#a8a8a8"/>
 <rect x="327.4" y="762.5" width="2" height="1" fill="#8a8a8a"/>
 <rect x="305.4" y="846.6" width="2.5" height="2.5" fill="#6e6e6e"/>
 <rect x="322.9" y="908.9" width="3" height="1" fill="#a8a8a8"/>
 <rect x="322.4" y="875.5" width="2" height="2" fill="#5c5c5c"/>
 <rect x="315.8" y="863.3" width="2" height="2" fill="#4a4a4a"/>
 <rect x="323.8" y="824.4" width="3" height="2" fill="#3a3a3a"/>
 <rect x="310.9" y="851.4" width="1.5" height="1.5" fill="#4a4a4a"/>
 <rect x="357.4" y="903.6" width="2" height="1" fill="#5c5c5c"/>
 <rect x="338.7" y="842.9" width="3" height="2" fill="#4a4a4a"/>
 <rect x="349.1" y="889.8" width="1" height="2" fill="#2e2e2e"/>
 <rect x="323.2" y="749.7" width="1.5" height="1" fill="#a8a8a8"/>
 <rect x="353.8" y="833.0" width="3" height="2" fill="#2e2e2e"/>
 <rect x="328.1" y="761.1" width="2.5" height="1" fill="#8a8a8a"/>
 <rect x="307.5" y="911.2" width="1.5" height="1.5" fill="#a8a8a8"/>
 <rect x="311.5" y="859.3" width="1.5" height="2" fill="#5c5c5c"/>
 <rect x="329.0" y="840.2" width="2" height="1" fill="#3a3a3a"/>
 <rect x="322.8" y="765.7" width="1.5" height="1.5" fill="#4a4a4a"/>
 <rect x="336.0" y="889.1" width="2" height="1" fill="#5c5c5c"/>
 <rect x="317.1" y="874.1" width="3" height="1.5" fill="#3a3a3a"/>
 <rect x="312.3" y="881.4" width="2" height="2.5" fill="#2e2e2e"/>
 <rect x="319.1" y="904.7" width="2" height="1" fill="#3a3a3a"/>
 <rect x="331.5" y="902.5" width="2.5" height="1.5" fill="#2e2e2e"/>
 <rect x="323.8" y="791.7" width="3" height="1.5" fill="#a8a8a8"/>
 <rect x="343.0" y="777.1" width="1.5" height="1.5" fill="#2e2e2e"/>
 <rect x="346.3" y="840.0" width="2.5" height="2.5" fill="#4a4a4a"/>
 <rect x="369.6" y="761.4" width="2.5" height="1.5" fill="#4a4a4a"/>
 <rect x="340.8" y="839.6" width="1.5" height="2" fill="#6e6e6e"/>
 <rect x="322.9" y="758.7" width="2" height="2.5" fill="#a8a8a8"/>
 <rect x="329.4" y="828.1" width="1" height="2.5" fill="#4a4a4a"/>
 <rect x="307.7" y="883.9" width="1.5" height="1.5" fill="#6e6e6e"/>
 <rect x="357.1" y="845.0" width="1" height="2" fill="#5c5c5c"/>
 <rect x="314.4" y="876.7" width="2" height="2" fill="#6e6e6e"/>
 <rect x="342.3" y="875.3" width="2" height="2.5" fill="#2e2e2e"/>
 <rect x="328.4" y="763.3" width="3" height="1" fill="#5c5c5c"/>
 <rect x="330.3" y="758.1" width="2.5" height="1.5" fill="#a8a8a8"/>
 <rect x="352.2" y="831.9" width="2.5" height="1" fill="#a8a8a8"/>
 <rect x="329.9" y="871.0" width="1.5" height="1" fill="#6e6e6e"/>
 <rect x="324.5" y="806.6" width="2.5" height="1" fill="#8a8a8a"/>
 <rect x="328.1" y="836.7" width="2" height="1" fill="#8a8a8a"/>
 <rect x="317.0" y="855.2" width="3" height="1.5" fill="#8a8a8a"/>
 <rect x="338.7" y="873.8" width="1.5" height="1" fill="#a8a8a8"/>
 <rect x="349.8" y="884.8" width="1.5" height="1.5" fill="#3a3a3a"/>
 <rect x="343.4" y="870.5" width="2" height="1" fill="#2e2e2e"/>
 <rect x="326.8" y="828.3" width="1" height="2.5" fill="#a8a8a8"/>
 <rect x="309.4" y="907.7" width="3" height="1" fill="#8a8a8a"/>
 <rect x="356.4" y="906.5" width="2" height="1.5" fill="#4a4a4a"/>
 <rect x="311.8" y="852.6" width="1" height="2.5" fill="#4a4a4a"/>
 <rect x="330.1" y="885.9" width="1.5" height="2" fill="#2e2e2e"/>
 <rect x="328.4" y="851.5" width="1" height="1.5" fill="#5c5c5c"/>
 <rect x="330.7" y="751.0" width="3" height="2.5" fill="#4a4a4a"/>
 <rect x="342.9" y="776.3" width="3" height="1.5" fill="#6e6e6e"/>
 <rect x="317.8" y="912.7" width="1" height="1" fill="#a8a8a8"/>
 <rect x="347.0" y="869.1" width="2.5" height="2" fill="#3a3a3a"/>
 <rect x="307.8" y="914.0" width="2" height="2.5" fill="#3a3a3a"/>
 <rect x="303.2" y="875.6" width="2.5" height="2.5" fill="#8a8a8a"/>
 <rect x="323.8" y="887.1" width="3" height="1" fill="#5c5c5c"/>
 <rect x="303.0" y="870.1" width="3" height="1.5" fill="#8a8a8a"/>
 <rect x="322.6" y="816.2" width="1.5" height="1" fill="#a8a8a8"/>
 <rect x="368.6" y="762.7" width="1.5" height="1" fill="#8a8a8a"/>
 <rect x="343.3" y="826.6" width="2" height="1.5" fill="#a8a8a8"/>
 <rect x="322.0" y="803.5" width="1" height="2.5" fill="#3a3a3a"/>
 <rect x="326.5" y="850.4" width="1" height="2" fill="#4a4a4a"/>
 <rect x="324.0" y="770.8" width="2.5" height="1.5" fill="#5c5c5c"/>
 <rect x="321.7" y="911.1" width="1" height="1.5" fill="#6e6e6e"/>
 <rect x="335.4" y="775.9" width="3" height="1.5" fill="#8a8a8a"/>
 <rect x="307.2" y="875.6" width="2" height="2" fill="#2e2e2e"/>
 <rect x="331.4" y="903.2" width="2" height="2.5" fill="#3a3a3a"/>
 <rect x="322.7" y="872.9" width="1.5" height="2" fill="#5c5c5c"/>
 <rect x="354.5" y="835.3" width="2" height="2" fill="#6e6e6e"/>
 <rect x="360.9" y="839.4" width="1" height="1.5" fill="#6e6e6e"/>
 <rect x="350.4" y="828.3" width="1" height="2.5" fill="#8a8a8a"/>
 <rect x="304.7" y="908.3" width="1" height="2" fill="#8a8a8a"/>
 <rect x="318.3" y="889.6" width="1" height="1.5" fill="#6e6e6e"/>
 <rect x="375.1" y="779.1" width="1.5" height="2" fill="#a8a8a8"/>
 <rect x="312.9" y="845.1" width="2" height="2" fill="#a8a8a8"/>
 <rect x="321.4" y="893.9" width="3" height="1.5" fill="#8a8a8a"/>
 <rect x="332.9" y="884.1" width="1.5" height="2" fill="#3a3a3a"/>
 <rect x="340.9" y="898.5" width="3" height="2.5" fill="#6e6e6e"/>
 <rect x="301.7" y="852.4" width="1" height="2.5" fill="#2e2e2e"/>
 <rect x="345.8" y="854.5" width="2.5" height="2.5" fill="#a8a8a8"/>
 <rect x="319.2" y="888.7" width="1" height="1" fill="#5c5c5c"/>
 <rect x="342.8" y="842.8" width="1.5" height="1.5" fill="#4a4a4a"/>
 <rect x="322.9" y="752.6" width="2" height="2" fill="#2e2e2e"/>
 <rect x="317.5" y="905.2" width="1.5" height="1" fill="#3a3a3a"/>
 <rect x="341.8" y="829.9" width="1" height="1" fill="#a8a8a8"/>
 <rect x="375.7" y="882.4" width="3" height="1.5" fill="#6e6e6e"/>
 <rect x="318.5" y="844.3" width="1.5" height="2.5" fill="#3a3a3a"/>
 <rect x="322.8" y="915.4" width="3" height="1.5" fill="#4a4a4a"/>
 <rect x="311.4" y="850.3" width="1" height="2" fill="#8a8a8a"/>
 <rect x="352.5" y="900.6" width="3" height="1.5" fill="#3a3a3a"/>
 <rect x="318.0" y="887.8" width="1.5" height="2.5" fill="#5c5c5c"/>
 <rect x="329.8" y="851.9" width="2" height="2.5" fill="#3a3a3a"/>
 <rect x="336.7" y="857.8" width="1.5" height="2.5" fill="#5c5c5c"/>
 <rect x="339.0" y="878.5" width="3" height="2.5" fill="#8a8a8a"/>
 <rect x="310.8" y="913.6" width="2" height="1.5" fill="#2e2e2e"/>
 <rect x="317.5" y="896.1" width="1" height="1" fill="#6e6e6e"/>
 <rect x="318.7" y="903.2" width="1" height="2" fill="#3a3a3a"/>
 <rect x="345.8" y="832.9" width="1.5" height="1.5" fill="#8a8a8a"/>
 <rect x="323.0" y="821.3" width="3" height="1.5" fill="#8a8a8a"/>
 <rect x="320.6" y="873.3" width="2.5" height="1.5" fill="#3a3a3a"/>
 <rect x="364.7" y="845.5" width="2" height="1" fill="#2e2e2e"/>
 <rect x="324.3" y="834.5" width="2" height="1.5" fill="#5c5c5c"/>
 <rect x="353.8" y="838.7" width="2" height="2.5" fill="#2e2e2e"/>
 <rect x="310.6" y="849.9" width="3" height="2" fill="#a8a8a8"/>
 <rect x="308.3" y="908.7" width="2.5" height="2" fill="#4a4a4a"/>
 <rect x="328.0" y="897.4" width="2" height="2.5" fill="#a8a8a8"/>
 <rect x="324.1" y="790.6" width="1" height="1" fill="#6e6e6e"/>
 <rect x="323.9" y="812.2" width="2" height="2" fill="#2e2e2e"/>
 <rect x="335.1" y="855.7" width="2" height="1" fill="#8a8a8a"/>
 <rect x="340.8" y="855.3" width="1" height="2" fill="#4a4a4a"/>
 <rect x="362.9" y="903.4" width="2.5" height="2.5" fill="#4a4a4a"/>
 <rect x="339.1" y="911.8" width="2.5" height="1" fill="#5c5c5c"/>
 <rect x="341.1" y="897.8" width="3" height="1" fill="#8a8a8a"/>
 <rect x="362.4" y="904.1" width="2" height="2" fill="#6e6e6e"/>
 <rect x="329.5" y="773.2" width="1.5" height="1.5" fill="#5c5c5c"/>
 <rect x="324.6" y="869.1" width="3" height="2" fill="#6e6e6e"/>
 <rect x="350.4" y="834.7" width="1.5" height="2" fill="#6e6e6e"/>
 <rect x="355.8" y="902.9" width="1" height="1" fill="#a8a8a8"/>
 <rect x="322.9" y="897.8" width="3" height="2.5" fill="#4a4a4a"/>
 <rect x="311.5" y="900.9" width="2.5" height="1" fill="#6e6e6e"/>
 <rect x="324.7" y="881.7" width="3" height="1.5" fill="#8a8a8a"/>
 <rect x="308.7" y="878.2" width="2" height="1.5" fill="#5c5c5c"/>
 <rect x="314.5" y="856.8" width="2" height="1.5" fill="#a8a8a8"/>
 <rect x="373.7" y="769.1" width="2" height="2.5" fill="#6e6e6e"/>
 <rect x="302.7" y="873.4" width="1" height="1" fill="#5c5c5c"/>
 <rect x="321.0" y="876.6" width="1" height="2.5" fill="#6e6e6e"/>
 <rect x="316.2" y="874.9" width="2.5" height="1.5" fill="#8a8a8a"/>
 <rect x="329.0" y="869.9" width="3" height="2" fill="#2e2e2e"/>
 <rect x="363.2" y="845.1" width="2" height="2.5" fill="#3a3a3a"/>
 <rect x="300.5" y="846.9" width="1.5" height="2" fill="#a8a8a8"/>
 <rect x="341.5" y="845.6" width="1.5" height="1" fill="#4a4a4a"/>
 <rect x="314.6" y="901.1" width="2.5" height="1" fill="#3a3a3a"/>
 <rect x="326.1" y="845.8" width="3" height="1" fill="#5c5c5c"/>
 <rect x="341.4" y="863.2" width="3" height="2" fill="#6e6e6e"/>
 <rect x="318.2" y="889.9" width="3" height="1" fill="#5c5c5c"/>
 <rect x="340.5" y="866.5" width="2" height="2" fill="#4a4a4a"/>
 <rect x="315.2" y="917.7" width="1" height="2" fill="#2e2e2e"/>
 <!-- shroud -->
 <path d="M297,738 L306,734 L316,748 L320,790 L320,828 Q318,840 306,842 L297,842 Z" fill="#f4f4f4"/>
 <path d="M309,765 L313,778 L313,828" stroke="#c4c4c4" stroke-width="1" fill="none"/>
 <path d="M316,750 L321,760 L322,832" stroke="#111" stroke-width="2" fill="none"/>
 <!-- vrm heatsink -->
 <polygon points="332,748 345,747 366,757 366,773 333,769" fill="#f0f0f0"/>
 <polygon points="336,757 364,763 364,770 337,766" fill="#1c1c1c"/>
 <g fill="#8c8c8c"><rect x="340" y="760" width="1.5" height="5"/><rect x="345" y="761" width="1.5" height="5"/><rect x="350" y="762" width="1.5" height="5"/><rect x="355" y="763" width="1.5" height="5"/></g>
 <!-- cpu socket -->
 <polygon points="326,779 358,784 358,825 326,822" fill="#a8a8a8"/>
 <polygon points="331,789 353,792 353,818 331,815" fill="#9a9284"/>
 <polygon points="336,794 349,796 349,812 336,810" fill="#8a8276"/>
 <g fill="#2a2a2a"><circle cx="330" cy="783" r="1.8"/><circle cx="340" cy="785" r="1.8"/><circle cx="354" cy="787" r="1.8"/><circle cx="330" cy="819" r="1.8"/><circle cx="346" cy="821" r="1.8"/><circle cx="355" cy="822" r="1.8"/><circle cx="328" cy="800" r="1.3"/><circle cx="356" cy="805" r="1.3"/></g>
 <!-- dimm slots -->
 <rect x="358" y="774" width="14" height="64" fill="#0e0e0e"/>
 <rect x="361" y="776" width="1.5" height="60" fill="#3a3a3a"/>
 <rect x="367" y="776" width="1.5" height="60" fill="#3a3a3a"/>
 <rect x="373" y="776" width="5" height="26" fill="#262626"/>
 <!-- chipset heatsink -->
 <path d="M352,848 L370,850 Q374,851 374,856 L373,894 L353,892 Q351,891 351,887 Z" fill="#ededed"/>
 <path d="M356,860 L368,878" stroke="#b0b0b0" stroke-width="1.2"/>
 <rect x="365" y="886" width="5" height="2" fill="#555"/>
 <!-- bottom connectors -->
 <rect x="296" y="910" width="6" height="14" fill="#a89060"/>
 <rect x="315" y="912" width="12" height="5" fill="#ddd"/>
</g>

<!-- HDD -->
<g id="hdd">
 <defs>
  <linearGradient id="hddbase2" x1="0" y1="0" x2="1" y2="0.3">
   <stop offset="0" stop-color="#9c9c9c"/>
   <stop offset="0.35" stop-color="#6c6c6c"/>
   <stop offset="0.7" stop-color="#565656"/>
   <stop offset="1" stop-color="#7c7c7c"/>
  </linearGradient>
  <radialGradient id="platter2" cx="0.42" cy="0.35" r="0.7">
   <stop offset="0" stop-color="#f4f4f4"/>
   <stop offset="0.5" stop-color="#d4d4d4"/>
   <stop offset="0.8" stop-color="#e4e4e4"/>
   <stop offset="1" stop-color="#9a9a9a"/>
  </radialGradient>
 </defs>
 <polygon points="531.6,769 631.6,769 652,873 513,873" fill="#3a3a3a"/>
 <polygon points="533.5,771 629.5,771 649.5,872 516,872" fill="url(#hddbase2)"/>
 <polygon points="540,776 624,776 640,868 524,868" fill="#4c4c4c" opacity="0.35"/>
 <g fill="#2a2a2a"><circle cx="535" cy="773" r="1.6"/><circle cx="628" cy="773" r="1.6"/><circle cx="519" cy="868" r="1.6"/><circle cx="646" cy="868" r="1.6"/></g>
 <ellipse cx="582" cy="808.5" rx="47.5" ry="34" fill="#262626"/>
 <ellipse cx="580.8" cy="806" rx="44.4" ry="31" fill="url(#platter2)"/>
 <path d="M545,790 Q560,782 580,780" stroke="#fafafa" stroke-width="2" fill="none" opacity="0.8"/>
 <path d="M600,828 Q615,824 622,812" stroke="#bcbcbc" stroke-width="2" fill="none" opacity="0.8"/>
 <ellipse cx="580" cy="798" rx="15" ry="9.8" fill="#3e3e3e"/>
 <ellipse cx="580" cy="798" rx="10.5" ry="6.8" fill="#7e7e7e"/>
 <ellipse cx="580" cy="798" rx="5" ry="3.4" fill="#d8d8d8"/>
 <ellipse cx="580" cy="798" rx="2.2" ry="1.5" fill="#4a4a4a"/>
 <!-- actuator base -->
 <path d="M534,843 L556,836 L580,848 L578,866 L542,872 L535,866 Z" fill="#b4b4b4"/>
 <ellipse cx="570" cy="846" rx="17" ry="10" fill="#2a2a2a"/>
 <ellipse cx="568" cy="843" rx="10" ry="7" fill="#c4c4c4"/>
 <ellipse cx="568" cy="843" rx="5" ry="3.5" fill="#707070"/>
 <!-- arm -->
 <polygon points="560,834 596,809 606,806 604,813 578,850" fill="#d6d6d6"/>
 <polygon points="560,834 596,809 598,811 563,838" fill="#8a8a8a"/>
 <polygon points="571,838 596,816 599,819 576,843" fill="#555"/>
 <path d="M586,829 L603,812" stroke="#c8b060" stroke-width="0.8"/>
 <circle cx="569.5" cy="841" r="7.5" fill="#cdcdcd"/>
 <circle cx="569.5" cy="841" r="3.5" fill="#7a7a7a"/>
 <!-- comb/connector -->
 <polygon points="604,846 625,844 627,860 606,861" fill="#bdbdbd"/>
 <g fill="#4a4a4a"><rect x="609" y="848" width="3.5" height="4"/><rect x="616" y="848" width="3.5" height="4"/><rect x="609" y="854" width="3.5" height="4"/><rect x="616" y="854" width="3.5" height="4"/></g>
 <circle cx="634" cy="851" r="3.2" fill="#c8c8c8"/>
 <circle cx="634" cy="851" r="1.4" fill="#666"/>
 <rect x="596" y="862" width="34" height="6" fill="#3a3a3a"/>
 <ellipse cx="583" cy="864" rx="7.5" ry="5" fill="#d8d8d8"/>
 <ellipse cx="583" cy="864" rx="3.5" ry="2.2" fill="#888"/>
 <ellipse cx="541" cy="862" rx="4" ry="3" fill="#8a8a8a"/>
 <!-- front panel -->
 <rect x="510.5" y="873" width="143.5" height="28" rx="2" fill="url(#front)"/>
 <rect x="510.5" y="873" width="143.5" height="1.5" fill="#5a5a5a"/>
 <rect x="510.5" y="898.5" width="143.5" height="3" fill="#5e5e5e"/>
 <rect x="570.5" y="874" width="1.5" height="25" fill="#6e6e6e"/>
 <rect x="594.5" y="874" width="1.5" height="25" fill="#6e6e6e"/>
 <rect x="531" y="877" width="7" height="3" fill="#333"/>
 <rect x="623" y="877" width="7" height="3" fill="#333"/>
 <circle cx="518" cy="884" r="3" fill="#555"/>
 <circle cx="646" cy="884" r="3" fill="#555"/>
</g>
</svg>
</body></html>
